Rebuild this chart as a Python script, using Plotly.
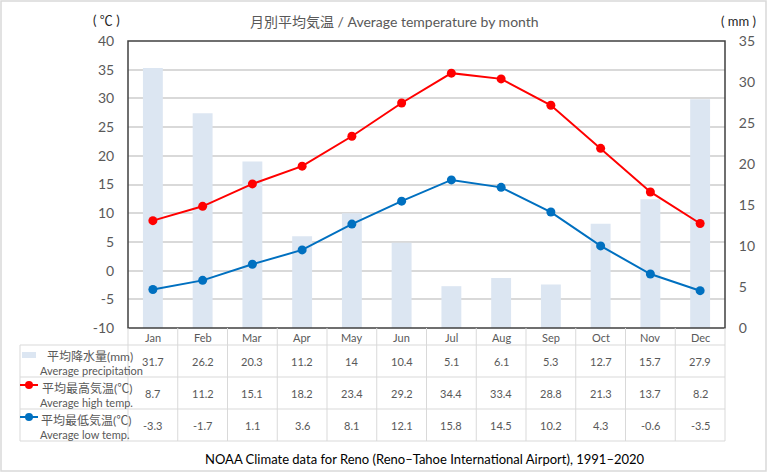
import plotly.graph_objects as go

months = ["Jan", "Feb", "Mar", "Apr", "May", "Jun", "Jul", "Aug", "Sep", "Oct", "Nov", "Dec"]
precip = [31.7, 26.2, 20.3, 11.2, 14, 10.4, 5.1, 6.1, 5.3, 12.7, 15.7, 27.9]
high = [8.7, 11.2, 15.1, 18.2, 23.4, 29.2, 34.4, 33.4, 28.8, 21.3, 13.7, 8.2]
low = [-3.3, -1.7, 1.1, 3.6, 8.1, 12.1, 15.8, 14.5, 10.2, 4.3, -0.6, -3.5]
temp_ticks = [-10, -5, 0, 5, 10, 15, 20, 25, 30, 35, 40]
precip_ticks = [0, 5, 10, 15, 20, 25, 30, 35]

row_labels_jp = ["平均降水量(mm)", "平均最高気温(℃)", "平均最低気温(℃)"]
row_labels_en = ["Average precipitation", "Average high temp.", "Average low temp."]

W, H = 768, 474
FONT = "Lato, 'Noto Sans CJK JP', sans-serif"
GREY = "#595959"
GRID = "#d9d9d9"
BAR = "#dce6f2"
RED = "#ff0000"
BLUE = "#0070c0"

def px(x):
    return x / W

def py(y):
    return 1 - y / H

PL, PR, PT, PB = 128, 725, 41, 328
colw = (PR - PL) / 12

fig = go.Figure()
# bars on primary (right-side mm axis), temperature lines on overlaying axis so they are drawn on top
fig.add_trace(go.Bar(x=months, y=precip, yaxis="y", marker_color=BAR, width=0.4,
                     showlegend=False))
fig.add_trace(go.Scatter(x=months, y=high, yaxis="y2", mode="lines+markers",
                         line=dict(color=RED, width=2), marker=dict(size=9, color=RED),
                         showlegend=False))
fig.add_trace(go.Scatter(x=months, y=low, yaxis="y2", mode="lines+markers",
                         line=dict(color=BLUE, width=2), marker=dict(size=9, color=BLUE),
                         showlegend=False))

shapes = []
annotations = []

# outer frame
shapes.append(dict(type="rect", xref="paper", yref="paper", x0=px(1), x1=px(766), y0=py(1), y1=py(471),
                   line=dict(color=GRID, width=1.5), layer="below"))
# plot border
shapes.append(dict(type="rect", xref="paper", yref="paper", x0=px(PL), x1=px(PR), y0=py(PB), y1=py(PT),
                   line=dict(color="#404040", width=1.5), layer="above"))

# table lines
rows_y = [345, 377, 409, 441]
for y in rows_y:
    shapes.append(dict(type="line", xref="paper", yref="paper", x0=px(20), x1=px(PR), y0=py(y), y1=py(y),
                       line=dict(color=GRID, width=1)))
shapes.append(dict(type="line", xref="paper", yref="paper", x0=px(20), x1=px(20), y0=py(345), y1=py(441),
                   line=dict(color=GRID, width=1)))
for k in range(13):
    x = PL + k * colw
    shapes.append(dict(type="line", xref="paper", yref="paper", x0=px(x), x1=px(x), y0=py(PB), y1=py(441),
                       line=dict(color=GRID, width=1)))

# month headers and values
table_rows = [precip, high, low]
for i, m in enumerate(months):
    cx = PL + (i + 0.5) * colw
    annotations.append(dict(x=px(cx), y=py(337), xref="paper", yref="paper", text=m, showarrow=False,
                            font=dict(size=11, color=GREY, family=FONT), xanchor="center", yanchor="middle"))
    for r, vals in enumerate(table_rows):
        cy = (rows_y[r] + rows_y[r + 1]) / 2
        annotations.append(dict(x=px(cx), y=py(cy), xref="paper", yref="paper", text=f"{vals[i]:g}",
                                showarrow=False, font=dict(size=11, color=GREY, family=FONT),
                                xanchor="center", yanchor="middle"))

# row labels
jp_x = [45, 40, 39]
for r in range(3):
    y0 = rows_y[r]
    annotations.append(dict(x=px(jp_x[r]), y=py(y0 + 11), xref="paper", yref="paper", text=row_labels_jp[r],
                            showarrow=False, font=dict(size=12, color=GREY, family=FONT),
                            xanchor="left", yanchor="middle"))
    annotations.append(dict(x=px(38), y=py(y0 + 25.5), xref="paper", yref="paper", text=row_labels_en[r],
                            showarrow=False, font=dict(size=11, color=GREY, family=FONT),
                            xanchor="left", yanchor="middle"))

# legend swatches
shapes.append(dict(type="rect", xref="paper", yref="paper", x0=px(22), x1=px(36), y0=py(358), y1=py(352),
                   fillcolor=BAR, line=dict(width=0)))
for yy, col in [(385, RED), (417, BLUE)]:
    shapes.append(dict(type="line", xref="paper", yref="paper", x0=px(20), x1=px(38), y0=py(yy), y1=py(yy),
                       line=dict(color=col, width=2)))
    shapes.append(dict(type="circle", xref="paper", yref="paper", x0=px(25), x1=px(33), y0=py(yy + 4),
                       y1=py(yy - 4), fillcolor=col, line=dict(width=0)))

# titles
annotations.append(dict(x=px(394), y=py(21), xref="paper", yref="paper",
                        text="月別平均気温 / Average temperature by month", showarrow=False,
                        font=dict(size=14, color=GREY, family=FONT), xanchor="center", yanchor="middle"))
annotations.append(dict(x=px(106), y=py(20), xref="paper", yref="paper", text="( ℃ )", showarrow=False,
                        font=dict(size=13, color="#262626", family=FONT), xanchor="center", yanchor="middle"))
annotations.append(dict(x=px(738), y=py(21), xref="paper", yref="paper", text="( mm )", showarrow=False,
                        font=dict(size=13, color="#262626", family=FONT), xanchor="center", yanchor="middle"))
annotations.append(dict(x=px(425), y=py(459), xref="paper", yref="paper",
                        text="NOAA Climate data for Reno (Reno–Tahoe International Airport), 1991–2020",
                        showarrow=False, font=dict(size=13, color="#000000", family=FONT),
                        xanchor="center", yanchor="middle"))

fig.update_layout(
    template="none",
    width=W, height=H, margin=dict(l=0, r=0, t=0, b=0, autoexpand=False),
    paper_bgcolor="white", plot_bgcolor="white",
    xaxis=dict(domain=[px(PL), px(PR)], range=[-0.5, 11.5], showticklabels=False, showgrid=False,
               zeroline=False, showline=False, ticks="", automargin=False),
    yaxis=dict(domain=[py(PB), py(PT)], side="right", range=[0, 35],
               tickvals=precip_ticks, ticktext=[str(v) for v in precip_ticks], showgrid=False,
               zeroline=False, showline=False, tickfont=dict(size=14, color=GREY, family=FONT),
               ticks="outside", ticklen=10, tickcolor="rgba(0,0,0,0)", automargin=False),
    yaxis2=dict(overlaying="y", side="left", range=[-10, 40],
                tickvals=temp_ticks, ticktext=[str(v) for v in temp_ticks],
                showgrid=True, gridcolor=GRID, gridwidth=1.5, zeroline=False, showline=False,
                tickfont=dict(size=14, color=GREY, family=FONT),
                ticks="outside", ticklen=10, tickcolor="rgba(0,0,0,0)", automargin=False),
    shapes=shapes, annotations=annotations,
)

fig.write_html("out.html")
